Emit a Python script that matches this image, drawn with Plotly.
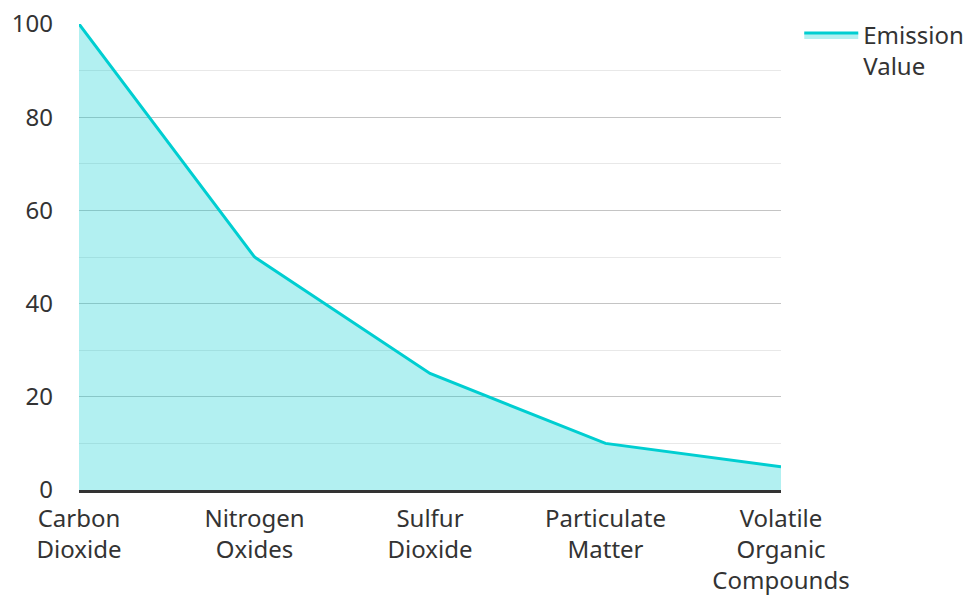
import plotly.graph_objects as go

categories = ["Carbon<br>Dioxide", "Nitrogen<br>Oxides", "Sulfur<br>Dioxide", "Particulate<br>Matter", "Volatile<br>Organic<br>Compounds"]
values = [100, 50, 25, 10, 5]
series_name = "Emission<br>Value"

fig = go.Figure()
fig.add_trace(go.Scatter(
    x=categories, y=values, mode="lines", fill="tozeroy", name=series_name,
    line=dict(color="#00CED1", width=3),
    fillcolor="rgba(0,206,209,0.3)",
))

fig.update_layout(
    width=963, height=589,
    margin=dict(l=71, r=190, t=16, b=107, autoexpand=False),
    paper_bgcolor="white", plot_bgcolor="white",
    font=dict(family="Noto Sans", size=24, color="#333"),
    showlegend=True,
    legend=dict(x=1.026, y=1.024, xanchor="left", yanchor="top", font=dict(size=24),
                valign="top", itemwidth=54, tracegroupgap=0),
    xaxis=dict(type="category", range=[0, 4], showgrid=False, showline=True, automargin=False,
               linecolor="#333", linewidth=3, ticks="", tickfont=dict(size=24), ticklabelstandoff=5,
               ticklabeloverflow="allow"),
    yaxis=dict(range=[0, 100], dtick=20, showgrid=True, gridcolor="#c4c4c4", gridwidth=1, automargin=False,
               zeroline=False, showline=False, ticks="", tickfont=dict(size=24), ticklabelstandoff=25,
               ticklabeloverflow="allow",
               minor=dict(dtick=10, showgrid=True, gridcolor="#e8e8e8", gridwidth=1)),
)

fig.write_html("out.html")
